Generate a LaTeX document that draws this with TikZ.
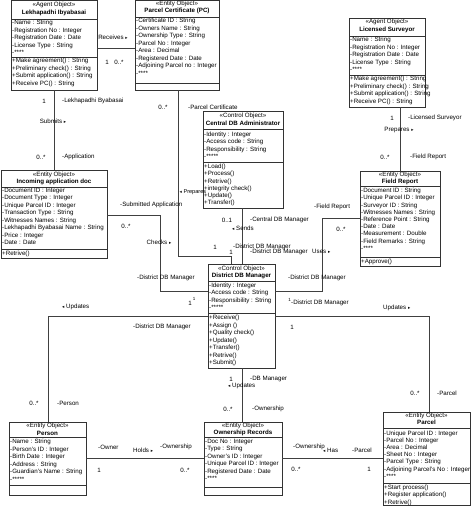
\documentclass[tikz,border=0pt]{standalone}
\usepackage{fontspec}
\setmainfont{Liberation Sans}
\newfontfamily\symf{DejaVu Sans}
\newcommand\rarr{{\symf\fontsize{4.5}{5}\selectfont ▸}}
\newcommand\larr{{\symf\fontsize{4.5}{5}\selectfont ◂}}
\tikzset{
 umlbox/.style={draw=black!80, line width=0.75pt, inner sep=0pt, outer sep=0pt, fill=white},
 sepline/.style={draw=black!80, line width=0.75pt},
 conn/.style={draw=black!75, line width=0.7pt},
 txt/.style={font=\fontsize{6.2}{7.5}\selectfont, inner sep=0pt, align=left, anchor=north west},
 txtb/.style={font=\fontsize{6.2}{7.2}\selectfont, inner sep=0pt, align=left, anchor=north west},
 stereo/.style={font=\fontsize{6.2}{7}\selectfont, inner sep=0pt},
 ctitle/.style={font=\bfseries\fontsize{6.2}{7}\selectfont, inner sep=0pt},
 lab/.style={font=\fontsize{6.2}{7}\selectfont, inner sep=0pt},
 labw/.style={lab, anchor=west},
}
\newcommand\ucbox[7]{%
 \node[umlbox, anchor=north west, minimum width={#4-#2}, minimum height={#5-#3}] (#1) at (#2,#3) {};
 \draw[sepline] (#1.west |- 0,#6) -- (#1.east |- 0,#6);
 \draw[sepline] (#1.west |- 0,#7) -- (#1.east |- 0,#7);
}
\newcommand\uchead[6]{%
 \node[stereo] (#1s) at (#2,#3) {«#5»};
 \node[ctitle] (#1t) at (#2,#4) {#6};
}
\begin{document}
\begin{tikzpicture}[x=1pt,y=-1pt]
\useasboundingbox (0,0) rectangle (474,506);
\coordinate (pcbend) at (231,256);
% ---------- boxes ----------
\ucbox{lek}{11}{0}{97}{90}{19}{57}
\uchead{lek}{54}{5}{12.5}{Agent Object}{Lekhapadhi Ibyabasai}
\node[txt] (lekA) at (12,20) {-Name : String\\-Registration No : Integer\\-Registration Date : Date\\-License Type : String\\-****};
\node[txt] (lekM) at (12,58) {+Make agreement() : String\\+Preliminary check() : String\\+Submit application() : String\\+Receive PC() : String};

\ucbox{pc}{135}{0}{219}{90}{17}{83}
\uchead{pc}{177}{4}{11}{Entity Object}{Parcel Certificate (PC)}
\node[txt] (pcA) at (136,18) {-Certificate ID : String\\-Owners Name : String\\-Ownership Type : String\\-Parcel No : Integer\\-Area : Decimal\\-Registered Date : Date\\-Adjoining Parcel no : Integer\\-****};

\ucbox{ls}{349}{18}{425}{107}{36}{75}
\uchead{ls}{387}{22}{30}{Agent Object}{Licensed Surveyor}
\node[txt] (lsA) at (350,37) {-Name : String\\-Registration No : Integer\\-Registration Date : Date\\-License Type : String\\-****};
\node[txt] (lsM) at (350,76) {+Make agreement() : String\\+Preliminary check() : String\\+Submit application() : String\\+Receive PC() : String};

\ucbox{inc}{1}{170}{107}{258}{187}{249}
\uchead{inc}{54}{175}{182}{Entity Object}{Incoming application doc}
\node[txt] (incA) at (2,188) {-Document ID : Integer\\-Document Type : Integer\\-Unique Parcel ID : Integer\\-Transaction Type : String\\-Witnesses Names : String\\-Lekhapadhi Byabasai Name : String\\-Price : Integer\\-Date : Date};
\node[txt] (incM) at (2,251) {+Retrive()};

\ucbox{cdb}{203}{111}{283}{208}{129}{162}
\uchead{cdb}{243}{116}{123}{Control Object}{Central DB Administrator}
\node[txtb] (cdbA) at (204,132) {-Identity : Integer\\-Access code : String\\-Responsibility : String\\-*****};
\node[txtb] (cdbM) at (204,164) {+Load()\\+Process()\\+Retrive()\\+integrity check()\\+Update()\\+Transfer()};

\ucbox{fr}{360}{171}{440}{266}{186}{257}
\uchead{fr}{400}{175}{181.5}{Entity Object}{Field Report}
\node[txtb] (frA) at (361,188) {-Document ID : String\\-Unique Parcel ID : Integer\\-Surveyor ID : String\\-Witnesses Names : String\\-Reference Point : String\\-Date : Date\\-Measurement : Double\\-Field Remarks : String\\-****};
\node[txt] (frM) at (361,258.5) {+Approve()};

\ucbox{ddm}{208}{264}{275}{368}{281}{313}
\uchead{ddm}{241.5}{269}{276}{Control Object}{District DB Manager}
\node[txt] (ddmA) at (209,282.5) {-Identity : Integer\\-Access code : String\\-Responsibility : String\\-*****};
\node[txt] (ddmM) at (209,315) {+Receive()\\+Assign ()\\+Quality check()\\+Update()\\+Transfer()\\+Retrive()\\+Submit()};

\ucbox{per}{9}{422}{86}{495}{437}{485}
\uchead{per}{47.5}{426}{433}{Entity Object}{Person}
\node[txt] (perA) at (10,439) {-Name : String\\-Person's ID : Integer\\-Birth Date : Integer\\-Address : String\\-Guardian's Name : String\\-*****};

\ucbox{own}{204}{422}{282}{495}{437}{487}
\uchead{own}{243}{426}{433}{Entity Object}{Ownership Records}
\node[txt] (ownA) at (205,439) {-Doc No : Integer\\-Type : String\\-Owner's ID : Integer\\-Unique Parcel ID : Integer\\-Registered Date : Date\\-****};

\ucbox{par}{383}{412}{470}{505.5}{428}{483}
\uchead{par}{426.5}{416}{422.5}{Entity Object}{Parcel}
\node[txtb] (parA) at (384,430.5) {-Unique Parcel ID : Integer\\-Parcel No : Integer\\-Area : Decimal\\-Sheet No : Integer\\-Parcel Type : String\\-Adjoining Parcel's No : Integer\\-****};
\node[txtb] (parM) at (384,485) {+Start process()\\+Register application()\\+Retrive()};

% ---------- connectors ----------
\draw[conn] (lek.east |- 0,48) -- (pc.west |- 0,48);
\draw[conn] (lek.south -| 54,0) -- (inc.north -| 54,0);
\draw[conn] (pc.south -| 178,0) |- (pcbend) -- (ddm.north -| pcbend);
\draw[conn] (cdb.south -| 242,0) -- (ddm.north -| 242,0);
\draw[conn] (inc.east |- 0,215) -| (160,291) -- (ddm.west |- 0,291);
\draw[conn] (fr.west |- 0,218) -| (322,291) -- (ddm.east |- 0,291);
\draw[conn] (ls.south -| 400,0) -- (fr.north -| 400,0);
\draw[conn] (ddm.west |- 0,316) -| (per.north -| 48,0);
\draw[conn] (ddm.east |- 0,316) -| (par.north -| 429,0);
\draw[conn] (ddm.south -| 242,0) -- (own.north -| 242,0);
\draw[conn] (per.east |- 0,458) -- (own.west |- 0,458);
\draw[conn] (own.east |- 0,458) -- (par.west |- 0,458);

% ---------- labels ----------
\node[lab] (l1) at (113,37) {Receives \rarr};
\node[lab] (l2) at (107,62) {1};
\node[lab] (l3) at (119,62) {0..*};
\node[lab] (l4) at (44,101) {1};
\node[labw] (l5) at (62,101) {-Lekhapadhi Byabasai};
\node[lab] (l6) at (53,121) {Submits \rarr};
\node[lab] (l7) at (41,157) {0..*};
\node[labw] (l8) at (62,157) {-Application};
\node[lab] (l9) at (163,107) {0..*};
\node[labw] (l10) at (188,107) {-Parcel Certificate};
\node[labw,font=\fontsize{5.6}{6}\selectfont] (l11) at (179.5,192) {\larr\ Prepares};
\node[labw] (l12) at (120,205) {-Submitted Application};
\node[lab] (l13) at (126,226) {0..*};
\node[lab] (l14) at (159,242) {Checks \rarr};
\node[labw] (l15) at (137,278) {-District DB Manager};
\node[lab] (l16) at (190,303) {1};
\node[lab,font=\fontsize{4.5}{5}\selectfont] (l17) at (194,299) {1};
\node[labw] (l18) at (133,327) {-District DB Manager};
\node[labw] (l19) at (62,307) {\larr\ Updates};
\node[lab] (l20) at (34,403) {0..*};
\node[labw] (l21) at (57,403) {-Person};
\node[lab] (l22) at (215,247) {1};
\node[labw] (l23) at (233,247) {-District DB Manager};
\node[lab] (l24) at (227,220) {0..1};
\node[labw] (l25) at (250,220) {-Central DB Manager};
\node[labw] (l26) at (232,228) {\larr\ Sends};
\node[lab] (l27) at (231,252) {1};
\node[labw] (l28) at (250,252) {-District DB Manager};
\node[labw] (l29) at (312,251) {Uses \rarr};
\node[labw] (l30) at (314,207) {-Field Report};
\node[lab] (l31) at (341,229) {0..*};
\node[labw] (l32) at (288,278) {-District DB Manager};
\node[lab,font=\fontsize{4.5}{5}\selectfont] (l33) at (289.5,300) {1};
\node[labw] (l34) at (291,303) {-District DB Manager};
\node[lab] (l35) at (292,327) {1};
\node[labw] (l36) at (383,308) {Updates \rarr};
\node[lab] (l37) at (415,393) {0..*};
\node[labw] (l38) at (437,393) {-Parcel};
\node[lab] (l39) at (392,118) {1};
\node[labw] (l40) at (408,118) {-Licensed Surveyor};
\node[lab] (l41) at (399,130) {Prepares \rarr};
\node[lab] (l42) at (385,157) {0..*};
\node[labw] (l43) at (410,157) {-Field Report};
\node[lab] (l44) at (231,379) {1};
\node[labw] (l45) at (250,379) {-DB Manager};
\node[labw] (l46) at (228,386) {\larr\ Updates};
\node[lab] (l47) at (228,409) {0..*};
\node[labw] (l48) at (252,409) {-Ownership};
\node[labw] (l49) at (98,447) {-Owner};
\node[labw] (l50) at (133,450) {Holds \rarr};
\node[lab] (l51) at (99,470) {1};
\node[labw] (l52) at (160,447) {-Ownership};
\node[lab] (l53) at (185,470) {0..*};
\node[labw] (l54) at (293,447) {-Ownership};
\node[labw] (l55) at (323,450) {\larr\ Has};
\node[labw] (l56) at (352,450) {-Parcel};
\node[lab] (l57) at (369,469) {1};
\node[lab] (l58) at (296,469) {0..*};
\end{tikzpicture}
\end{document}
